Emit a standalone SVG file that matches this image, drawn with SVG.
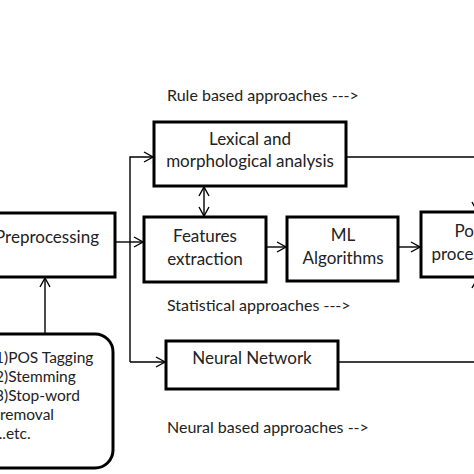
<svg xmlns="http://www.w3.org/2000/svg" width="474" height="474" viewBox="0 0 474 474">
<style>
.box{fill:#fff;stroke:#000;stroke-width:3}
.t{font-family:Lato,"Liberation Sans",sans-serif;font-size:17px;fill:#222}
.l{font-size:16px}
.s{font-size:15.5px}
.c{text-anchor:middle}
.ln{fill:none;stroke:#000;stroke-width:1.4}
</style>
<defs>
<marker id="ah" markerWidth="12" markerHeight="12" refX="10" refY="6" orient="auto" markerUnits="userSpaceOnUse">
<path d="M1,1 L10,6 L1,11" fill="none" stroke="#000" stroke-width="1.4"/>
</marker>
<marker id="as" markerWidth="12" markerHeight="12" refX="10" refY="6" orient="auto-start-reverse" markerUnits="userSpaceOnUse">
<path d="M1,1 L10,6 L1,11" fill="none" stroke="#000" stroke-width="1.4"/>
</marker>
</defs>
<g id="labels">
<text class="t l" x="167" y="101">Rule based approaches ---&gt;</text>
<text class="t l" x="167" y="311">Statistical approaches ---&gt;</text>
<text class="t l" x="167" y="433">Neural based approaches --&gt;</text>
</g>
<g id="connectors">
<path class="ln" d="M115,242 H143" marker-end="url(#ah)"/>
<path class="ln" d="M130,362 V157 H153" marker-end="url(#ah)"/>
<path class="ln" d="M130,362 H165" marker-end="url(#ah)"/>
<path class="ln" d="M204,187 V216" marker-start="url(#as)" marker-end="url(#as)"/>
<path class="ln" d="M266,247 H286" marker-end="url(#ah)"/>
<path class="ln" d="M398,247 H420" marker-end="url(#ah)"/>
<path class="ln" d="M346,157 H477 V211" marker-end="url(#ah)"/>
<path class="ln" d="M338,362 H477 V279" marker-end="url(#ah)"/>
<path class="ln" d="M45,334 V278" marker-end="url(#ah)"/>
</g>
<g id="preprocessing">
<rect class="box" x="-20" y="213" width="135" height="64"/>
<text class="t c" x="47" y="243">Preprocessing</text>
</g>
<g id="lexical">
<rect class="box" x="154" y="122" width="192" height="64"/>
<text class="t c" x="250" y="145">Lexical and</text>
<text class="t c" x="250" y="167">morphological analysis</text>
</g>
<g id="features">
<rect class="box" x="144" y="217" width="122" height="65"/>
<text class="t c" x="205" y="242">Features</text>
<text class="t c" x="205" y="265">extraction</text>
</g>
<g id="ml">
<rect class="box" x="287" y="217" width="111" height="64"/>
<text class="t c" x="343" y="241">ML</text>
<text class="t c" x="343" y="264">Algorithms</text>
</g>
<g id="postprocessing">
<rect class="box" x="421" y="212" width="80" height="65"/>
<text class="t c" x="471" y="237">Post</text>
<text class="t c" x="471" y="260">processing</text>
</g>
<g id="neural">
<rect class="box" x="166" y="341" width="172" height="48"/>
<text class="t c" x="252" y="364">Neural Network</text>
</g>
<g id="steps">
<rect class="box" x="-30" y="334" width="143" height="134" rx="18" ry="18"/>
<text class="t s" x="-5" y="363">1)POS Tagging</text>
<text class="t s" x="-5" y="382">2)Stemming</text>
<text class="t s" x="-5" y="401">3)Stop-word</text>
<text class="t s" x="0" y="420">removal</text>
<text class="t s" x="-5" y="439">...etc.</text>
</g>
</svg>
